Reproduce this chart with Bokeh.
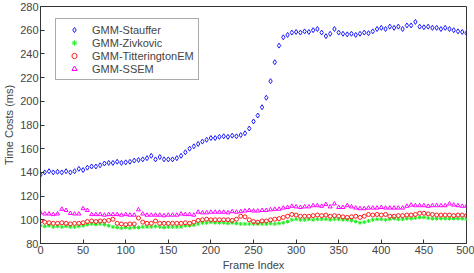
from bokeh.plotting import figure
from bokeh.models import Legend, LegendItem, FixedTicker
from bokeh.embed import file_html
from bokeh.resources import INLINE

frames = list(range(0, 501, 5))

stauffer = [138, 140, 141, 140, 140.5, 140, 141, 140, 141, 143,
            142, 144, 145, 145, 146, 147.5, 148, 148, 149, 148,
            148.5, 149, 150, 150.5, 151, 152, 154, 151, 153, 151,
            151, 151, 152, 154, 157, 160, 162, 164, 166, 167.5,
            169, 169, 170, 170.5, 170, 171, 170.5, 171.5, 173, 177,
            183, 188, 195, 203, 217, 233, 247, 254, 256, 258,
            258.5, 258, 259, 258.5, 260, 261, 258, 255, 257, 261,
            258, 257, 256.5, 257, 256, 257, 258, 257.5, 259, 261,
            262, 261, 263, 262, 263, 261, 264, 264, 267, 263,
            262.5, 263, 262, 262, 261, 262, 261, 260, 259, 258.5, 257.5]

zivkovic = [95, 94.5, 95, 94, 94.5, 94, 94.5, 94, 94, 94.5,
            95, 96, 96.5, 96, 96.5, 96, 95, 94, 93.5, 93,
            93.5, 93, 93.5, 93.5, 94, 94, 94, 94.5, 94, 93.5,
            94, 94, 94, 94, 95, 95, 95.5, 96.5, 97.5, 97.5,
            98, 97.5, 97.5, 97.5, 97, 97.5, 97, 96.5, 96.5, 96.5,
            96.5, 96.5, 96.5, 96.5, 97, 96.5, 97, 97.5, 98.5, 100,
            100.5, 100, 100, 100.5, 100, 100.5, 100.5, 100.5, 100, 100.5,
            100.5, 100, 100, 99.5, 98.5, 97.5, 98, 99, 100, 100.5,
            100.5, 100, 100.5, 101, 100.5, 100.5, 101, 101, 101.5, 102,
            102, 101.5, 101, 101, 101, 101, 101, 101, 101, 101, 100.5]

titterington = [99, 98, 97.5, 97, 97, 97.5, 97, 96.5, 97, 97,
                97.5, 98.5, 99, 98.5, 99, 99, 99.5, 100.5, 97, 96.5,
                96, 96.5, 96.5, 101.5, 98, 97, 97, 99, 97, 97,
                97, 97, 97, 97, 97.5, 97, 98, 99.5, 100, 100.5,
                100, 100, 100, 100, 100, 99.5, 100.5, 103, 102.5, 100,
                98.5, 98, 99, 99, 100, 100.5, 101, 102, 103, 104.5,
                104, 103, 103, 103, 103.5, 104, 103.5, 104, 103, 103.5,
                103, 102.5, 102, 102.5, 103, 102, 103, 104.5, 104, 104.5,
                104, 104.5, 103, 103, 103.5, 103.5, 104, 104, 104.5, 105.5,
                105.5, 105, 104.5, 104, 104, 104, 104, 103.5, 104, 104, 103.5]

ssem = [106, 105, 105, 104.5, 105, 109, 108, 105.5, 105, 105,
        109.5, 108, 104.5, 104.5, 104.5, 104, 104.5, 104.5, 104.5, 104,
        104.5, 104, 104, 108.5, 105, 104, 104, 104, 104, 103.5,
        104, 104, 104, 105, 104.5, 104.5, 104, 106.5, 106, 106,
        106.5, 106.5, 106.5, 106.5, 106, 107, 106.5, 107, 107.5, 108,
        107.5, 107.5, 108, 108, 108.5, 109, 109, 110, 110.5, 111.5,
        111, 110.5, 111, 111, 112, 112, 111.5, 113, 111, 113.5,
        110.5, 110.5, 112, 111, 110, 109.5, 109.5, 110, 110, 110,
        110.5, 110, 110, 110, 110, 110, 111.5, 112.5, 112, 112,
        112, 111.5, 112, 112, 112, 112, 113.5, 112.5, 112, 111.5, 111.5]

labels = ["GMM-Stauffer", "GMM-Zivkovic", "GMM-TitteringtonEM", "GMM-SSEM"]
x_ticks = [0, 50, 100, 150, 200, 250, 300, 350, 400, 450, 500]
y_ticks = [80, 100, 120, 140, 160, 180, 200, 220, 240, 260, 280]

FONT = "Liberation Sans"

p = figure(width=474, height=273, output_backend="svg", toolbar_location=None,
           x_range=(0, 500), y_range=(80, 280),
           min_border_left=4, min_border_right=8, min_border_top=6, min_border_bottom=2)
p.xgrid.visible = False
p.ygrid.visible = False
p.outline_line_color = "#333333"
p.background_fill_color = "white"
p.border_fill_color = "white"

for ax in (p.xaxis[0], p.yaxis[0]):
    ax.major_tick_in = 4
    ax.major_tick_out = 0
    ax.minor_tick_in = 0
    ax.minor_tick_out = 0
    ax.major_label_standoff = 2
    ax.axis_label_standoff = 2
    ax.major_label_text_font = FONT
    ax.major_label_text_font_size = "11px"
    ax.axis_label_text_font = FONT
    ax.axis_label_text_font_size = "11px"
    ax.axis_label_text_font_style = "normal"
    ax.axis_line_color = "#333333"
    ax.major_tick_line_color = "#333333"

p.xaxis[0].ticker = FixedTicker(ticks=x_ticks)
p.yaxis[0].ticker = FixedTicker(ticks=y_ticks)
p.xaxis[0].axis_label = "Frame Index"
p.yaxis[0].axis_label = "Time Costs (ms)"

r1 = p.scatter(frames, stauffer, marker="diamond", size=5, fill_color=None,
               line_color="#1a1aff", line_width=1)
r2 = p.scatter(frames, zivkovic, marker="asterisk", size=4,
               line_color="#22ee22", line_width=1)
r3 = p.scatter(frames, titterington, marker="circle", size=4, fill_color=None,
               line_color="#ff1a1a", line_width=1)
r4 = p.scatter(frames, ssem, marker="triangle", size=4, fill_color=None,
               line_color="#ff00ff", line_width=1)

legend = Legend(items=[LegendItem(label=labels[0], renderers=[r1]),
                       LegendItem(label=labels[1], renderers=[r2]),
                       LegendItem(label=labels[2], renderers=[r3]),
                       LegendItem(label=labels[3], renderers=[r4])],
                location=(15, 163))
legend.padding = 4
legend.spacing = 0
legend.margin = 0
legend.glyph_width = 28
legend.glyph_height = 13
legend.label_height = 13
legend.label_standoff = 4
legend.label_text_font = FONT
legend.label_text_font_size = "11px"
legend.border_line_color = "#555555"
legend.background_fill_alpha = 1
p.add_layout(legend, "center")

open("out.html", "w").write(file_html(p, INLINE))
